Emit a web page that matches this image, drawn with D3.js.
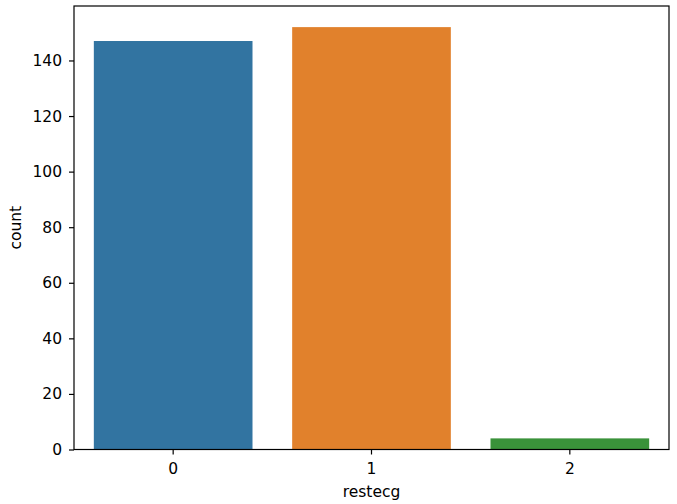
<!DOCTYPE html>
<meta charset="utf-8">
<html>
  <head>
    <script src="https://d3js.org/d3.v7.min.js"></script>
    <style>
      body { margin: 0; background: #fff; }
      text { font-family: "DejaVu Sans", sans-serif; }
    </style>
  </head>
  <body>
    <div id="chart"></div>

    <script type="text/javascript">
      var categories = ["0", "1", "2"],
          counts = [147, 152, 4],
          colors = ["#3274a1", "#e1812c", "#3a923a"],
          yTicks = [0, 20, 40, 60, 80, 100, 120, 140];

      var W = 677, H = 504,
          margin = { top: 6, right: 8, bottom: 54.5, left: 74 },
          width = W - margin.left - margin.right,
          height = H - margin.top - margin.bottom,
          fontSize = "15.5px";

      var svg = d3.select("#chart").append("svg")
          .attr("width", W)
          .attr("height", H);

      var g = svg.append("g")
          .attr("transform", "translate(" + margin.left + "," + margin.top + ")");

      var x = d3.scaleBand()
          .domain(categories)
          .range([0, width])
          .paddingInner(0.2)
          .paddingOuter(0.1);

      var y = d3.scaleLinear()
          .domain([0, d3.max(counts) * 1.05])
          .range([height, 0]);

      // bars
      g.selectAll(".bar")
          .data(categories)
          .enter().append("rect")
            .attr("class", "bar")
            .attr("x", function(d) { return x(d); })
            .attr("y", function(d, i) { return y(counts[i]); })
            .attr("width", x.bandwidth())
            .attr("height", function(d, i) { return height - y(counts[i]); })
            .style("fill", function(d, i) { return colors[i]; });

      // axes
      var xAxis = g.append("g")
          .attr("transform", "translate(0," + height + ")")
          .call(d3.axisBottom(x).tickSizeInner(5).tickSizeOuter(0).tickPadding(8));

      var yAxis = g.append("g")
          .call(d3.axisLeft(y).tickValues(yTicks).tickSizeInner(5).tickSizeOuter(0).tickPadding(7));

      [xAxis, yAxis].forEach(function(a) {
        a.select(".domain").remove();
        a.selectAll("line").style("stroke", "#000").style("stroke-width", 1.2);
        a.selectAll("text").style("font-size", fontSize).style("fill", "#000")
          .style("font-family", "DejaVu Sans, sans-serif");
      });

      // frame
      g.append("rect")
          .attr("x", 0).attr("y", 0)
          .attr("width", width).attr("height", height)
          .style("fill", "none")
          .style("stroke", "#000")
          .style("stroke-width", 1.2);

      // labels
      svg.append("text")
          .text("restecg")
          .attr("x", margin.left + width / 2)
          .attr("y", margin.top + height + 47)
          .style("text-anchor", "middle")
          .style("font-size", fontSize);

      svg.append("text")
          .text("count")
          .attr("transform", "translate(21," + (margin.top + height / 2) + ") rotate(-90)")
          .style("text-anchor", "middle")
          .style("font-size", fontSize);
    </script>
  </body>
</html>
